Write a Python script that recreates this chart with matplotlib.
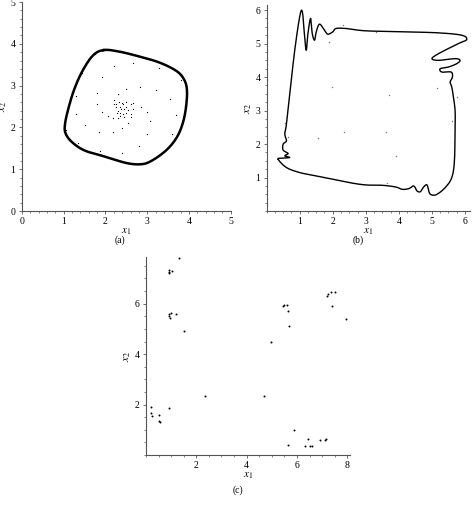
import matplotlib
matplotlib.use("Agg")
import matplotlib.pyplot as plt
import numpy as np
from matplotlib.ticker import MultipleLocator

plt.rcParams['font.family'] = ['Liberation Serif', 'DejaVu Serif']
plt.rcParams['mathtext.fontset'] = 'stix'

# Panel (a): limit cycle and spiral trajectory points
loop_a_x = [1.95, 2.3, 2.8, 3.3, 3.7, 3.88, 3.95, 3.93, 3.85, 3.7, 3.45, 3.1, 2.85, 2.5, 2.0, 1.5, 1.2, 1.05, 1.03, 1.1, 1.25, 1.45, 1.7, 1.95]
loop_a_y = [3.85, 3.82, 3.7, 3.55, 3.35, 3.15, 2.9, 2.5, 2.1, 1.75, 1.45, 1.2, 1.12, 1.15, 1.3, 1.45, 1.65, 1.85, 2.05, 2.4, 2.9, 3.35, 3.72, 3.85]
dots_a_x = [1.75, 2.2, 2.67, 3.27, 1.45, 1.92, 3.8, 1.3, 1.8, 2.3, 2.5, 2.83, 3.2, 3.55, 1.8, 2.85, 3.68, 1.3, 1.92, 2.05, 2.18, 2.3, 3.0, 3.06, 1.5, 2.55, 2.4, 1.85, 2.18, 3.0, 3.6, 1.35, 2.8, 1.88, 2.4, 3.33, 2.9, 1.05,
            2.2, 2.2, 2.25, 2.3, 2.35, 2.42, 2.5, 2.55, 2.5, 2.42, 2.35, 2.38, 2.45, 2.5, 2.6, 2.65, 2.62, 2.6, 2.45, 2.35, 2.28, 2.25, 2.32, 2.4, 2.65]
dots_a_y = [3.75, 3.47, 3.55, 3.43, 3.3, 3.2, 3.13, 2.75, 2.83, 2.8, 2.92, 2.97, 2.9, 2.67, 2.55, 2.5, 2.3, 2.32, 2.37, 2.27, 2.23, 2.23, 2.37, 2.15, 2.05, 2.1, 1.98, 1.9, 1.9, 1.85, 1.85, 1.62, 1.56, 1.43, 1.4, 1.38, 1.15, 1.95,
            2.65, 2.55, 2.48, 2.4, 2.35, 2.32, 2.35, 2.42, 2.5, 2.55, 2.5, 2.45, 2.45, 2.6, 2.55, 2.45, 2.33, 2.25, 2.25, 2.28, 2.35, 2.55, 2.62, 2.58, 2.58]

# Panel (b): wavy closed orbit and sparse points
loop_b_x = [0.35, 0.6, 1.0, 1.5, 2.0, 2.5, 3.0, 3.5, 3.9, 4.1, 4.3, 4.45, 4.55, 4.65, 4.75, 4.85, 4.92, 5.0, 5.15, 5.4, 5.6, 5.68, 5.7, 5.7, 5.65, 5.6, 5.55, 5.62, 5.58, 5.3, 5.25, 5.5, 5.75, 5.85, 5.7, 5.2, 5.0, 5.2, 5.8, 6.05, 5.9, 5.2, 4.2, 3.0, 2.4, 2.1, 2.0, 1.85, 1.75, 1.6, 1.5, 1.45, 1.38, 1.33, 1.25, 1.2, 1.15, 1.08, 1.0, 0.85, 0.7, 0.6, 0.55, 0.6, 0.5, 0.5, 0.65, 0.55, 0.7, 0.5, 0.35]
loop_b_y = [1.55, 1.3, 1.15, 1.05, 0.95, 0.85, 0.78, 0.77, 0.72, 0.65, 0.67, 0.75, 0.6, 0.58, 0.72, 0.78, 0.55, 0.48, 0.5, 0.7, 1.0, 1.5, 2.5, 3.0, 3.4, 3.7, 3.85, 4.0, 4.15, 4.15, 4.25, 4.3, 4.4, 4.5, 4.55, 4.5, 4.55, 4.7, 5.0, 5.12, 5.25, 5.32, 5.35, 5.38, 5.45, 5.45, 5.35, 5.28, 5.4, 5.58, 5.35, 5.1, 5.3, 5.75, 5.3, 4.8, 5.2, 5.95, 5.8, 4.8, 3.5, 2.6, 2.3, 2.1, 2.0, 1.82, 1.72, 1.65, 1.6, 1.58, 1.55]
dots_b_x = [2.3, 1.9, 3.3, 1.97, 3.7, 5.15, 5.75, 5.6, 2.35, 3.6, 1.55, 0.65, 0.55, 3.9, 3.65]
dots_b_y = [5.55, 5.05, 5.35, 3.7, 3.48, 3.68, 3.4, 2.7, 2.35, 2.35, 2.17, 2.22, 2.62, 1.65, 0.85]

# Panel (c): scattered points
dots_c_x = [0.9, 0.9, 0.92, 1.05, 1.3, 0.9, 0.92, 0.95, 1.0, 1.2, 1.5, 0.2, 0.2, 0.22, 0.5, 0.5, 0.55, 0.9, 2.35, 4.7, 4.95, 5.45, 5.5, 5.6, 5.65, 5.7, 7.2, 7.25, 7.35, 7.5, 7.4, 7.95, 5.9, 5.65, 6.3, 6.45, 6.5, 6.6, 6.9, 7.1, 7.15]
dots_c_y = [7.35, 7.25, 7.2, 7.3, 7.8, 5.5, 5.6, 5.45, 5.65, 5.6, 4.9, 1.9, 1.65, 1.55, 1.6, 1.35, 1.3, 1.85, 2.35, 2.35, 4.5, 5.9, 5.95, 5.95, 5.7, 5.1, 6.3, 6.4, 6.45, 6.45, 5.9, 5.4, 0.98, 0.38, 0.35, 0.65, 0.35, 0.35, 0.6, 0.6, 0.65]


def smooth_closed(xs, ys, n=12):
    """Catmull-Rom rendering of a closed polyline (drawing only)."""
    p = np.column_stack([xs[:-1], ys[:-1]])
    m = len(p)
    out = []
    t = np.linspace(0, 1, n, endpoint=False)[:, None]
    for i in range(m):
        p0, p1, p2, p3 = p[(i - 1) % m], p[i], p[(i + 1) % m], p[(i + 2) % m]
        seg = 0.5 * ((2 * p1) + (-p0 + p2) * t + (2 * p0 - 5 * p1 + 4 * p2 - p3) * t ** 2
                     + (-p0 + 3 * p1 - 3 * p2 + p3) * t ** 3)
        out.append(seg)
    out = np.vstack(out + [p[:1]])
    return out[:, 0], out[:, 1]


fig = plt.figure(figsize=(4.74, 5.05), dpi=100)
ax_a = fig.add_axes([0.046, 0.582, 0.441, 0.414])
ax_b = fig.add_axes([0.5625, 0.582, 0.429, 0.408])
ax_c = fig.add_axes([0.308, 0.099, 0.430, 0.392])

def style(ax):
    for s in ['top', 'right']:
        ax.spines[s].set_visible(False)
    for s in ['left', 'bottom']:
        ax.spines[s].set_color('#555555')
        ax.spines[s].set_linewidth(0.8)
    ax.tick_params(labelsize=7, length=2.5, width=0.6, color='#555555', pad=2)
    ax.tick_params(which='minor', length=1.5, width=0.5, color='#555555')

sx, sy = smooth_closed(loop_a_x, loop_a_y)
ax_a.plot(sx, sy, color='black', lw=1.8)
ax_a.scatter(dots_a_x, dots_a_y, s=0.8, color='black', lw=0)
ax_a.set_xlim(0, 5)
ax_a.set_ylim(0, 5)
ax_a.xaxis.set_major_locator(MultipleLocator(1))
ax_a.yaxis.set_major_locator(MultipleLocator(1))
ax_a.xaxis.set_minor_locator(MultipleLocator(0.2))
ax_a.yaxis.set_minor_locator(MultipleLocator(0.2))
style(ax_a)
ax_a.set_xlabel(r'$x_1$', fontsize=8, labelpad=0)
ax_a.set_ylabel(r'$x_2$', fontsize=8, labelpad=1)

sx, sy = smooth_closed(loop_b_x, loop_b_y)
ax_b.plot(sx, sy, color='black', lw=1.0)
ax_b.scatter(dots_b_x, dots_b_y, s=1, color='#777777', lw=0)
ax_b.set_xlim(0, 6.15)
ax_b.set_ylim(0, 6.15)
ax_b.set_xticks([1, 2, 3, 4, 5, 6])
ax_b.set_yticks([1, 2, 3, 4, 5, 6])
ax_b.xaxis.set_minor_locator(MultipleLocator(0.25))
ax_b.yaxis.set_minor_locator(MultipleLocator(0.25))
style(ax_b)
ax_b.set_xlabel(r'$x_1$', fontsize=8, labelpad=0)
ax_b.set_ylabel(r'$x_2$', fontsize=8, labelpad=1)

ax_c.scatter(dots_c_x, dots_c_y, s=2, color='black', lw=0)
ax_c.set_xlim(0, 8.1)
ax_c.set_ylim(0, 7.85)
ax_c.set_xticks([2, 4, 6, 8])
ax_c.set_yticks([2, 4, 6])
ax_c.xaxis.set_minor_locator(MultipleLocator(0.5))
ax_c.yaxis.set_minor_locator(MultipleLocator(0.5))
style(ax_c)
ax_c.set_xlabel(r'$x_1$', fontsize=8, labelpad=0)
ax_c.set_ylabel(r'$x_2$', fontsize=8, labelpad=1)

fig.text(120 / 474, 1 - 240 / 505, '(a)', fontsize=7, ha='center', va='center')
fig.text(358 / 474, 1 - 240 / 505, '(b)', fontsize=7, ha='center', va='center')
fig.text(238 / 474, 1 - 490 / 505, '(c)', fontsize=7, ha='center', va='center')

fig.savefig('out.png', dpi=100)
